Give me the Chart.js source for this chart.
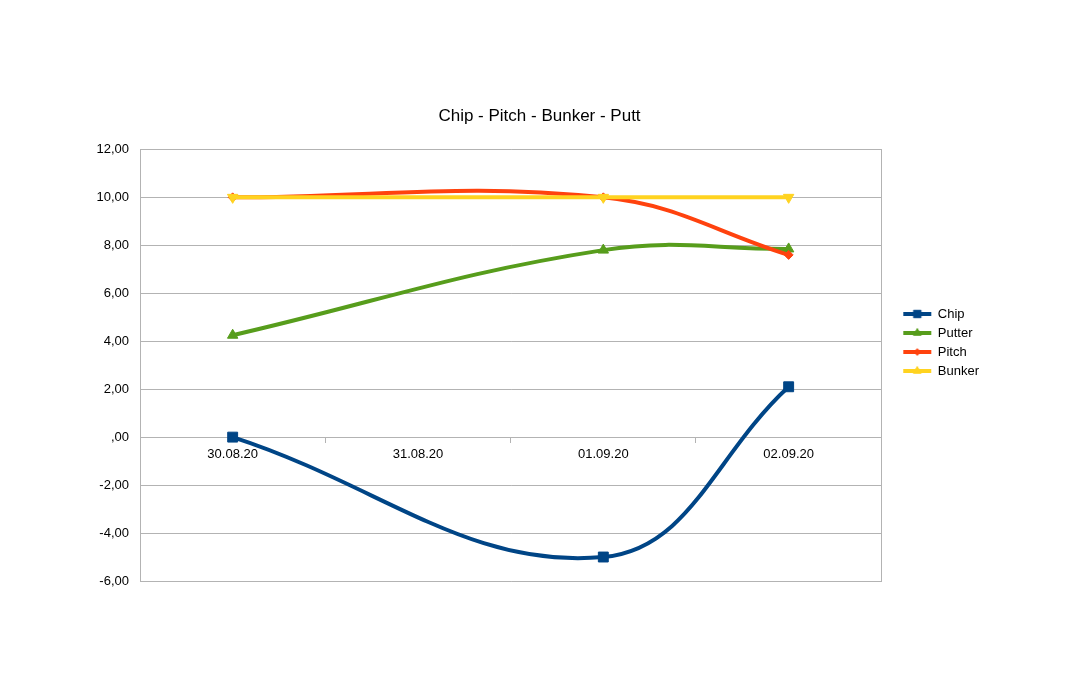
<!DOCTYPE html>
<html>
<head>
<meta charset="utf-8">
<script src="https://cdn.jsdelivr.net/npm/chart.js@4/dist/chart.umd.min.js"></script>
<style>
  html, body { margin: 0; padding: 0; background: #fff; }
  #wrap { width: 1069px; height: 697px; }
</style>
</head>
<body>
<div id="wrap"><canvas id="chart" width="1069" height="697"></canvas></div>
<script>
var labels = ['30.08.20', '31.08.20', '01.09.20', '02.09.20'];
var chip = [0, null, -5, 2.1];
var putter = [4.25, null, 7.8, 7.85];
var pitch = [10, null, 10, 7.6];
var bunker = [10, null, 10, 10];
var yMin = -6, yMax = 12, yStep = 2;

var FONT = 'Liberation Sans, Arial, sans-serif';
var GRID = '#b3b3b3';

// LibreOffice style number format: 0 -> ",00", 2 -> "2,00"
function fmt(v) {
    var s = Math.abs(v).toFixed(2).replace('.', ',');
    if (s.charAt(0) === '0') s = s.slice(1);
    return (v < 0 ? '-' : '') + s;
}

// legend symbol: line with the marker on top
function legendIcon(color, style, radius, rotation) {
    var c = document.createElement('canvas');
    c.width = 30; c.height = 14;
    var g = c.getContext('2d');
    g.strokeStyle = color;
    g.lineWidth = 4;
    g.beginPath(); g.moveTo(1, 7); g.lineTo(29, 7); g.stroke();
    g.fillStyle = color;
    g.lineWidth = 1;
    Chart.helpers.drawPoint(g, { pointStyle: style, radius: radius, rotation: rotation || 0, borderWidth: 1 }, 15, 7);
    return c;
}

function series(label, data, color, style, radius, rotation, order) {
    return {
        label: label,
        data: data,
        borderColor: color,
        backgroundColor: color,
        borderWidth: 4,
        pointStyle: style,
        pointRadius: radius,
        pointRotation: rotation || 0,
        pointBorderWidth: 1,
        pointBackgroundColor: color,
        pointBorderColor: color,
        tension: 0.4,
        spanGaps: true,
        fill: false,
        order: order,
        icon: legendIcon(color, style, radius * 0.75, rotation)
    };
}

var datasets = [
    series('Chip', chip, '#004586', 'rect', 7, 0, 3),
    series('Putter', putter, '#579d1c', 'triangle', 6, 0, 2),
    series('Pitch', pitch, '#ff420e', 'rectRot', 4.5, 0, 1),
    series('Bunker', bunker, '#ffd320', 'triangle', 6, 180, 0)
];

new Chart(document.getElementById('chart'), {
    type: 'line',
    data: { labels: labels, datasets: datasets },
    options: {
        responsive: false,
        animation: false,
        devicePixelRatio: 1,
        layout: { padding: { left: 90, right: 80, top: 104, bottom: 116 } },
        plugins: {
            title: {
                display: true,
                text: 'Chip - Pitch - Bunker - Putt',
                color: '#000',
                font: { family: FONT, size: 17, weight: 'normal' },
                padding: { top: 2, bottom: 23 }
            },
            legend: {
                position: 'right',
                labels: {
                    usePointStyle: true,
                    pointStyleWidth: 28,
                    boxHeight: 13,
                    padding: 6,
                    color: '#000',
                    font: { family: FONT, size: 13 },
                    sort: function (a, b) { return a.datasetIndex - b.datasetIndex; },
                    generateLabels: function (chart) {
                        var items = Chart.defaults.plugins.legend.labels.generateLabels(chart);
                        items.forEach(function (it) {
                            it.pointStyle = chart.data.datasets[it.datasetIndex].icon;
                        });
                        return items;
                    }
                }
            },
            tooltip: { enabled: false }
        },
        scales: {
            x: {
                type: 'category',
                position: { y: 0 },
                offset: true,
                grid: { offset: true, drawOnChartArea: false, drawTicks: true, tickLength: 5, color: GRID },
                border: { display: true, color: GRID },
                ticks: { padding: 4, color: '#000', maxRotation: 0, autoSkip: false, font: { family: FONT, size: 13 } }
            },
            y: {
                min: yMin,
                max: yMax,
                grid: { color: GRID, drawTicks: false },
                border: { color: GRID },
                ticks: { stepSize: yStep, padding: 11, color: '#000', font: { family: FONT, size: 13 }, callback: fmt },
                afterFit: function (s) { s.width = 50; }
            },
            y2: {
                position: 'right',
                min: yMin,
                max: yMax,
                grid: { drawOnChartArea: false, drawTicks: false },
                border: { color: GRID },
                ticks: { display: false },
                afterFit: function (s) { s.width = 16; }
            }
        }
    }
});
</script>
</body>
</html>
